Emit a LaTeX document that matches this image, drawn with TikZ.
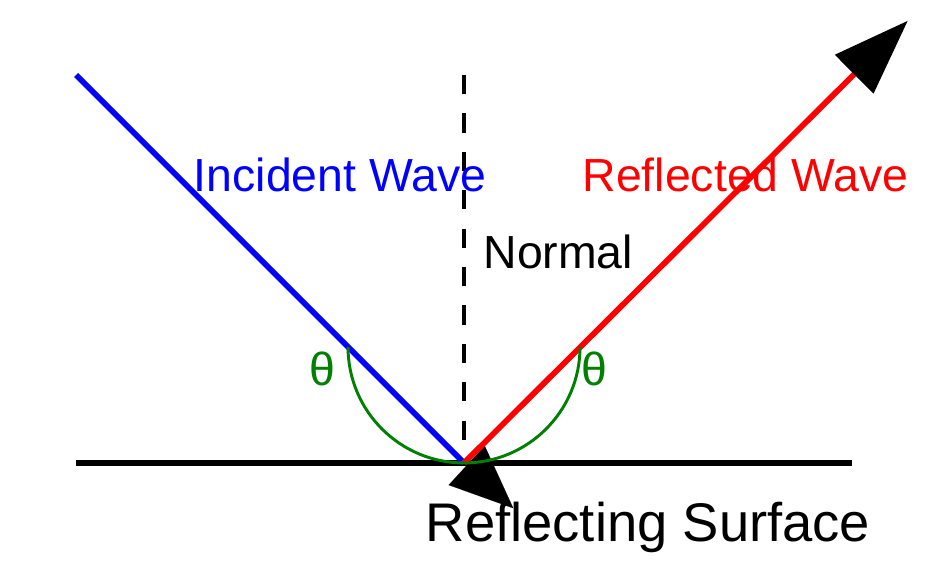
\documentclass[tikz,border=0pt]{standalone}
\usepackage{fontspec}
\setmainfont{Liberation Sans}
\usepackage{tikz}
\usetikzlibrary{arrows.meta}
\definecolor{mplgreen}{RGB}{0,128,0}
\tikzset{
  wavestroke/.style={line width=4.3pt},
  lbl/.style={inner sep=0pt, font=\fontsize{34.8}{40}\selectfont},
  anglelbl/.style={lbl, text=mplgreen},
}
\begin{document}
\begin{tikzpicture}[x=72.75pt, y=72.75pt]
\useasboundingbox (-4.784,-1.082) rectangle (4.938,4.773);
% Reflexion en una superficie plana
\coordinate (O) at (0,0);
\coordinate (A) at (-4,4);
\coordinate (N) at (0,4);
\coordinate (SL) at (-4,0);
\coordinate (SR) at (4,0);
\coordinate (Rtip) at (4.575,4.559);
\coordinate (Itip) at (0.508,-0.467);
\draw[line width=5pt] (SL) -- (SR);
\draw[line width=2.5pt, dash pattern=on 14.4pt off 14.4pt] (N) -- (O);
\draw[blue, wavestroke] (A) -- (O);
\draw[line width=0.1pt, -{Triangle[length=47.5pt, width=40pt]}] (O) -- (Itip);
\draw[red, wavestroke, -{Triangle[color=black, length=56.8pt, width=40pt]}] (O) -- (Rtip);
\draw[mplgreen, line width=2.2pt] (-1.196,1.196) arc[start angle=180, end angle=360, radius=1.196];
\node[lbl, text=blue, anchor=base] (incident) at (-1.278,2.797) {Incident Wave};
\node[lbl, text=red, anchor=base] (reflected) at (2.902,2.797) {Reflected Wave};
\node[lbl, anchor=base west] (normal) at (0.198,2.007) {Normal};
\node[anglelbl] (thetaL) at (-1.455,0.969) {θ};
\node[anglelbl] (thetaR) at (1.345,0.969) {θ};
\node[inner sep=0pt, anchor=base, font=\fontsize{40.8}{46}\selectfont] (surface) at (1.897,-0.811) {Reflecting Surface};
\end{tikzpicture}
\end{document}
